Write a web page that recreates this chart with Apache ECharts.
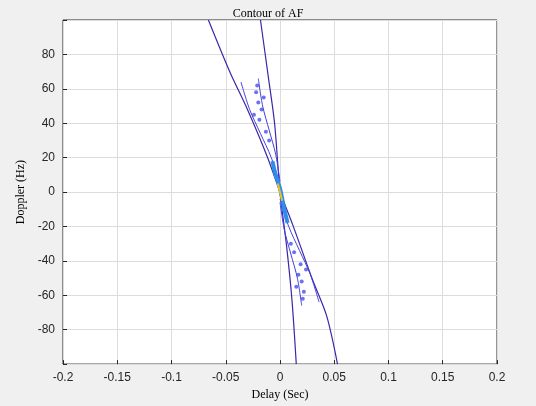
<!DOCTYPE html>
<html>
<head>
<meta charset="utf-8">
<script src="https://cdn.jsdelivr.net/npm/echarts@6/dist/echarts.min.js"></script>
<style>html,body{margin:0;background:#f0f0f0}#c{width:536px;height:406px}</style>
</head>
<body>
<div id="c"></div>
<script>
// contour traces: [delay, doppler]
var outerLine = [[-0.066, 100], [-0.046, 69.5], [-0.030, 48], [-0.012, 21], [0, 0], [0.012, -19.5], [0.030, -51], [0.043, -72], [0.053, -100]];
var innerLine = [[-0.018, 100], [-0.011, 68], [-0.005, 40], [0, 0], [0.006, -31], [0.011, -62.5], [0.015, -100]];
var upperSide = [[-0.036, 64], [-0.028, 48], [-0.018, 34], [-0.008, 20], [0, 4]];
var upperSide2 = [[-0.02, 66], [-0.016, 50], [-0.010, 36], [-0.004, 22], [0, 6]];
var lowerSide = [[0, -4], [0.008, -20], [0.018, -34], [0.028, -48], [0.036, -64]];
var lowerSide2 = [[0, -6], [0.004, -22], [0.010, -36], [0.016, -50], [0.02, -66]];
var blobs = [[-0.022, 58], [-0.02, 52], [-0.017, 48], [-0.024, 45], [-0.015, 55], [-0.019, 42], [-0.013, 35], [-0.01, 30], [-0.021, 62],
    [0.022, -58], [0.02, -52], [0.017, -48], [0.024, -45], [0.015, -55], [0.019, -42], [0.013, -35], [0.01, -30], [0.021, -62]];
var coreMid = [[-0.007, 18], [-0.004, 10], [0, 2], [0.004, -10], [0.007, -18]];
var corePeak = [[-0.002, 5], [0, 0], [0.002, -5]];

var chart = echarts.init(document.getElementById('c'));
var font = 'Liberation Serif';
function line(data, color, w) {
    return { type: 'line', data: data, showSymbol: false, smooth: 0.3, lineStyle: { color: color, width: w || 1 }, silent: true };
}
chart.setOption({
    animation: false,
    backgroundColor: '#f0f0f0',
    title: { text: 'Contour of AF', left: 'center', top: 3, textStyle: { fontFamily: font, fontSize: 12, fontWeight: 'normal', color: '#000' } },
    grid: { left: 63, right: 39, top: 20, bottom: 41, show: true, backgroundColor: '#fff', borderColor: '#262626', borderWidth: 1 },
    xAxis: {
        type: 'value', min: -0.2, max: 0.2, interval: 0.05,
        name: 'Delay (Sec)', nameLocation: 'middle', nameGap: 23,
        nameTextStyle: { fontFamily: font, fontSize: 12, color: '#000' },
        axisLine: { show: false, onZero: false }, axisTick: { inside: true, length: 4, lineStyle: { color: '#262626' } },
        axisLabel: { fontFamily: 'Liberation Sans', fontSize: 12, color: '#262626', formatter: function(v) { return String(Math.round(v * 100) / 100); } },
        splitLine: { lineStyle: { color: '#dcdcdc' } }
    },
    yAxis: {
        type: 'value', min: -100, max: 100, interval: 20,
        name: 'Doppler (Hz)', nameLocation: 'middle', nameGap: 32,
        nameTextStyle: { fontFamily: font, fontSize: 12, color: '#000' },
        axisLine: { show: false, onZero: false }, axisTick: { inside: true, length: 4, lineStyle: { color: '#262626' } },
        axisLabel: { fontFamily: 'Liberation Sans', fontSize: 12, color: '#262626', formatter: function(v) { return Math.abs(v) === 100 ? '' : v; } },
        splitLine: { lineStyle: { color: '#dcdcdc' } }
    },
    series: [
        line(outerLine, '#3d26a8', 1.2),
        line(innerLine, '#3d26a8', 1.2),
        line(upperSide, '#4440e0', 1),
        line(upperSide2, '#4440e0', 1),
        line(lowerSide, '#4440e0', 1),
        line(lowerSide2, '#4440e0', 1),
        { type: 'scatter', data: blobs, symbolSize: 4, itemStyle: { color: '#4650ea' }, silent: true },
        line(coreMid, '#2f8ce8', 4),
        line(corePeak, '#e6c02a', 2)
    ]
});
</script>
</body>
</html>
